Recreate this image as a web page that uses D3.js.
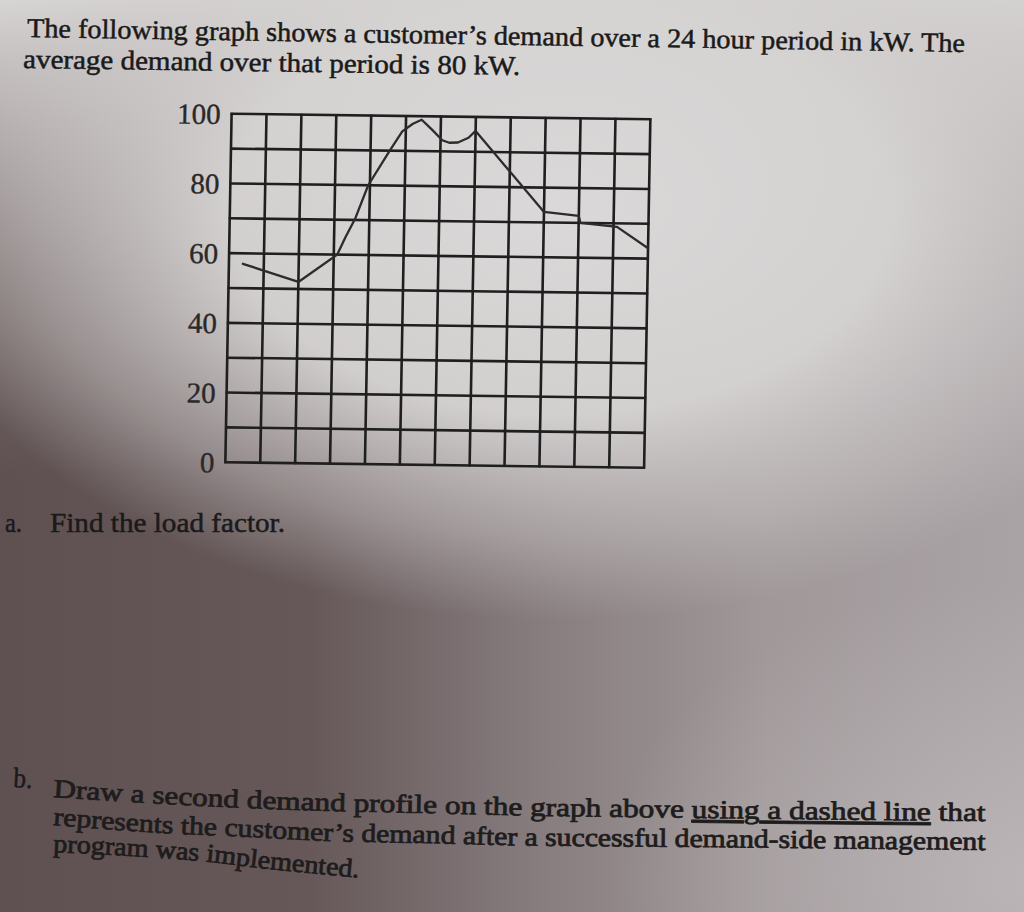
<!DOCTYPE html>
<html><head><meta charset="utf-8">
<script src="https://cdn.jsdelivr.net/npm/d3@7"></script>
<style>html,body{margin:0;padding:0;background:#b5afb0;overflow:hidden}</style>
</head><body>
<svg id="c" width="1024" height="912"></svg>
<script>
// ---- data ----
const hours    = [0.8, 4, 6.2, 6.65, 7.2, 7.9, 9.1, 9.8, 10.4, 10.9, 11.5, 12.1, 12.5, 13, 13.6, 14, 18, 20, 20.1, 22.2, 24];
const demandKW = [57, 52, 60, 65, 70.5, 80, 90, 95.6, 97.8, 99, 96.2, 93.2, 92.5, 92.6, 94, 96, 73, 72, 70, 69, 63];
const yTickLabels = [0, 20, 40, 60, 80, 100];
const xGridHours = d3.range(0, 25, 2);
const yGridKW = d3.range(0, 101, 10);
const titleLines = ["The following graph shows a customer\u2019s demand over a 24 hour period in kW.  The",
                    "average demand over that period is 80 kW."];
const partA = ["a.", "Find the load factor."];
const partBLabel = "b.";
const partBLines = [
  ["Draw a second demand profile on the graph above ", "using a dashed line", " that"],
  ["represents the customer\u2019s demand after a successful demand-side management"],
  ["program was implemented."]
];

const svg = d3.select("#c");
const defs = svg.append("defs");

// ---- photo lighting of the page ----
const gBase = defs.append("linearGradient").attr("id","base").attr("x1",0).attr("x2",1).attr("y1",0).attr("y2",0);
[[0,"#5f5152"],[0.3,"#665859"],[0.55,"#8a8082"],[0.75,"#a09899"],[1,"#aaa3a6"]].forEach(([o,c])=>gBase.append("stop").attr("offset",o).attr("stop-color",c));
const gLight = defs.append("radialGradient").attr("id","light").attr("gradientUnits","userSpaceOnUse")
  .attr("cx",0).attr("cy",0).attr("r",1).attr("gradientTransform","translate(560,210) scale(660,410)");
[[0,"#dad8d8",1],[0.5,"#d6d3d3",0.95],[0.8,"#cdc9c9",0.45],[1,"#c8c4c4",0]].forEach(([o,c,op])=>gLight.append("stop").attr("offset",o).attr("stop-color",c).attr("stop-opacity",op));
const gTop = defs.append("linearGradient").attr("id","topband").attr("x1",0).attr("x2",0).attr("y1",0).attr("y2",1);
[[0,"#d8d6d5",1],[0.11,"#cfcbca",0.8],[0.3,"#b4aeac",0.35],[0.52,"#a09898",0]].forEach(([o,c,op])=>gTop.append("stop").attr("offset",o).attr("stop-color",c).attr("stop-opacity",op));
const gBr = defs.append("radialGradient").attr("id","br").attr("gradientUnits","userSpaceOnUse")
  .attr("cx",0).attr("cy",0).attr("r",1).attr("gradientTransform","translate(1024,880) scale(420,300)");
[[0,"#c6c0c2",0.6],[1,"#c6c0c2",0]].forEach(([o,c,op])=>gBr.append("stop").attr("offset",o).attr("stop-color",c).attr("stop-opacity",op));

svg.append("rect").attr("width",1024).attr("height",912).attr("fill","url(#base)");
svg.append("rect").attr("width",1024).attr("height",912).attr("fill","url(#topband)");
svg.append("rect").attr("width",1024).attr("height",912).attr("fill","url(#light)");
svg.append("rect").attr("width",1024).attr("height",912).attr("fill","url(#br)");

// ---- chart (slightly skewed like the photographed page) ----
const W = 418.75, H = 348.5;
const x = d3.scaleLinear().domain([0, 24]).range([0, W]);
const y = d3.scaleLinear().domain([0, 100]).range([H, 0]);
const g = svg.append("g").attr("transform", "matrix(1,0.01313,-0.01793,1,231.6,113.75)");

const gridColor = "#1f1f1f";
g.append("g").selectAll("line").data(yGridKW).join("line")
  .attr("x1", x(0) - 1).attr("x2", x(24) + 1).attr("y1", d => y(d)).attr("y2", d => y(d))
  .attr("stroke", gridColor).attr("stroke-width", 2.6);
g.append("g").selectAll("line").data(xGridHours).join("line")
  .attr("y1", y(100) - 1).attr("y2", y(0) + 1).attr("x1", d => x(d)).attr("x2", d => x(d))
  .attr("stroke", gridColor).attr("stroke-width", 2.6);

g.append("g").selectAll("text").data(yTickLabels).join("text")
  .attr("x", -11).attr("y", d => y(d)).attr("dy", "0.36em")
  .attr("text-anchor", "end")
  .attr("font-family", "'Liberation Serif', 'DejaVu Serif', serif")
  .attr("font-size", 29).attr("fill", "#2a2828")
  .attr("stroke", "#2a2828").attr("stroke-width", 0.4)
  .text(d => d);

const pts = hours.map((h, i) => [h, demandKW[i]]);
g.append("path").datum(pts)
  .attr("d", d3.line().x(d => x(d[0])).y(d => y(d[1])).curve(d3.curveLinear))
  .attr("fill", "none").attr("stroke", "#2c2c2c").attr("stroke-width", 2.3)
  .attr("stroke-linejoin", "round").attr("stroke-linecap", "round");

// ---- page text ----
const serif = "'Liberation Serif', 'Times New Roman', serif";
function line(txt, x0, y0, len, ang, size) {
  return svg.append("text").attr("x", x0).attr("y", y0)
    .attr("transform", `rotate(${ang},${x0},${y0})`)
    .attr("font-family", serif).attr("font-size", size)
    .attr("fill", "#1b1a1a").attr("stroke", "#1b1a1a").attr("stroke-width", 0.5)
    .attr("textLength", len).attr("lengthAdjust", "spacingAndGlyphs")
    .text(txt);
}
line(titleLines[0], 27, 37, 938, 0.92, 27);
line(titleLines[1], 23, 68, 497, 0.8, 27);
line(partA[0], 5, 532, 17, 0, 27);
line(partA[1], 50, 532, 235, 0, 27);
line(partBLabel, 13, 787, 19, 3, 28);

// curved baselines of the curling page bottom
const bPaths = [
  [[53,797],[115,801],[200,806],[300,810],[420,813],[500,815],[700,818],[986,821]],
  [[53,825],[163,833],[250,837],[330,841],[420,843],[500,845],[700,847],[986,850]],
  [[53,852],[147,857],[200,861],[260,868],[362,878]]
];
const bLens = [933, 933, 307];
const curve = d3.line().curve(d3.curveMonotoneX);
bPaths.forEach((p, i) => {
  defs.append("path").attr("id", "bp" + i).attr("d", curve(p));
  const tp = svg.append("text")
    .attr("font-family", serif).attr("font-size", 26)
    .attr("fill", "#1e1c1c").attr("stroke", "#1e1c1c").attr("stroke-width", 0.8)
    .append("textPath").attr("href", "#bp" + i)
    .attr("textLength", bLens[i]).attr("lengthAdjust", "spacingAndGlyphs");
  partBLines[i].forEach((s, j) => {
    const ts = tp.append("tspan").text(s);
    if (i === 0 && j === 1) ts.style("text-decoration", "underline");
  });
});
</script>
</body></html>
